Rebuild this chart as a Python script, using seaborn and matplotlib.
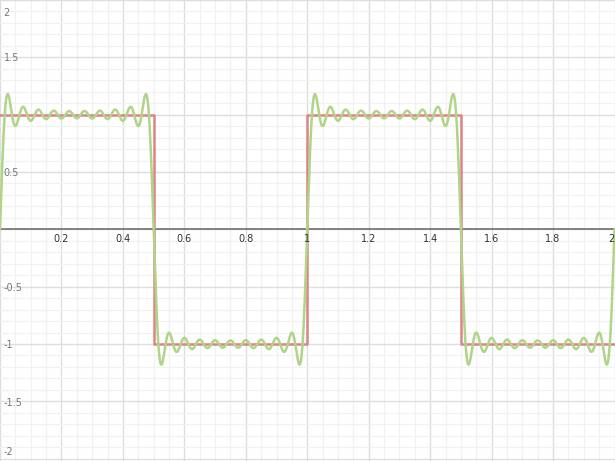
import matplotlib
matplotlib.use('Agg')
import matplotlib.pyplot as plt
import numpy as np
import pandas as pd
import seaborn as sns

# square wave corners (period 1)
square_x = [0, 0.5, 0.5, 1, 1, 1.5, 1.5, 2]
square_y = [1, 1, -1, -1, 1, 1, -1, -1]

# Fourier partial sum: odd harmonics and their amplitudes (4 / (pi n))
harmonics = [1, 3, 5, 7, 9, 11, 13, 15, 17, 19]
amplitudes = [1.2732, 0.4244, 0.2546, 0.1819, 0.1415, 0.1157, 0.0979, 0.0849, 0.0749, 0.0670]

x_labels = ['0.2', '0.4', '0.6', '0.8', '1', '1.2', '1.4', '1.6', '1.8', '2']
x_label_pos = [0.2, 0.4, 0.6, 0.8, 1.0, 1.2, 1.4, 1.6, 1.8, 2.0]
y_labels = ['2', '1.5', '0.5', '-0.5', '-1', '-1.5', '-2']
y_label_pos = [2, 1.5, 0.5, -0.5, -1, -1.5, -2]

sns.set_style('white')
plt.rcParams['font.family'] = ['DejaVu Sans']

fig = plt.figure(figsize=(6.15, 4.61), dpi=100)
ax = fig.add_axes([0, 0, 1, 1])

xmin, xmax = 0.0015, 2.0016
ymin, ymax = -2.02, 1.99
ax.set_xlim(xmin, xmax)
ax.set_ylim(ymin, ymax)

# grid: minor every 0.05 / 0.1, major every 0.2 / 0.5
ax.set_xticks(np.arange(0, 2.01, 0.2))
ax.set_xticks(np.arange(0, 2.01, 0.05), minor=True)
ax.set_yticks(np.arange(-2, 2.01, 0.5))
ax.set_yticks(np.arange(-2, 2.01, 0.1), minor=True)
ax.grid(which='minor', color='#f1f1f1', linewidth=0.9)
ax.grid(which='major', color='#dedede', linewidth=1.0)
ax.tick_params(which='both', length=0, labelbottom=False, labelleft=False)
ax.set_axisbelow(True)
for s in ax.spines.values():
    s.set_visible(False)

ax.axhline(0, color='#7a7a7a', linewidth=1.3, zorder=2)

sq = pd.DataFrame({'x': square_x, 'y': square_y})
sns.lineplot(data=sq, x='x', y='y', estimator=None, sort=False, ax=ax,
             color='#dc8585', linewidth=1.8, zorder=3)

xs = np.linspace(0, 2.0, 3000)
ys = np.zeros_like(xs)
for n, a in zip(harmonics, amplitudes):
    ys += a * np.sin(2 * np.pi * n * xs)
fourier = pd.DataFrame({'x': xs, 'y': ys})
sns.lineplot(data=fourier, x='x', y='y', estimator=None, sort=False, ax=ax,
             color='#b0d488', linewidth=1.8, zorder=4)

ax.set_xlabel('')
ax.set_ylabel('')

for lab, p in zip(x_labels, x_label_pos):
    ha = 'right' if p >= xmax - 0.01 else 'center'
    xp = xmax - 0.003 if ha == 'right' else p
    ax.text(xp, -0.08, lab, ha=ha, va='center', fontsize=7, color='#333333', zorder=5)

for lab, p in zip(y_labels, y_label_pos):
    yp = min(max(p, ymin + 0.09), ymax - 0.09)
    ax.text(0.012, yp - 0.01, lab, ha='left', va='center', fontsize=7, color='#777777', zorder=5)

fig.savefig('out.png', dpi=100)
